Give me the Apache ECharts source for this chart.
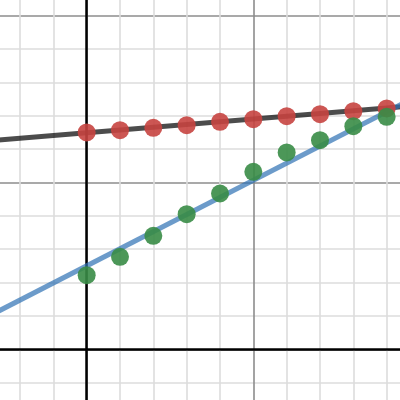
<!DOCTYPE html>
<html>
<head>
<meta charset="utf-8">
<script src="https://cdn.jsdelivr.net/npm/echarts@6/dist/echarts.min.js"></script>
<style>
html,body{margin:0;padding:0;background:#fff;overflow:hidden;width:400px;height:400px;}
#wrap{position:relative;width:400px;height:400px;overflow:hidden;}
#c{position:absolute;}
</style>
</head>
<body>
<div id="wrap"><div id="c"></div></div>
<script>
const xs = [0, 1, 2, 3, 4, 5, 6, 7, 8, 9];
const redY = [6.50, 6.57, 6.64, 6.72, 6.82, 6.90, 6.99, 7.05, 7.14, 7.22];
const greenY = [2.22, 2.77, 3.40, 4.05, 4.67, 5.32, 5.90, 6.27, 6.69, 6.97];
// fitted lines: [intercept, slope]
const darkFit = [6.49, 0.0825];
const blueFit = [2.50, 0.513];
const lineXRange = [-5, 10];

const unit = 100 / 3; // px per unit
const xMin = -5, xMax = 10, yMin = -5, yMax = 15;
const originX = 87, originY = 349;

const el = document.getElementById('c');
el.style.left = (originX + xMin * unit) + 'px';
el.style.top = (originY - yMax * unit) + 'px';
el.style.width = ((xMax - xMin) * unit) + 'px';
el.style.height = ((yMax - yMin) * unit) + 'px';

function pts(ys) { return xs.map((x, i) => [x, ys[i]]); }
function fitLine(f) { return lineXRange.map(x => [x, f[0] + f[1] * x]); }

const minor = '#dcdcdc', major = '#8c8c8c';
const chart = echarts.init(el, null, {renderer: 'canvas'});
chart.setOption({
  animation: false,
  backgroundColor: '#fff',
  grid: {left: 0, right: 0, top: 0, bottom: 0, containLabel: false},
  xAxis: {
    type: 'value', min: xMin, max: xMax, interval: 1,
    axisLabel: {show: false}, axisTick: {show: false},
    axisLine: {show: true, onZero: true, lineStyle: {color: '#000', width: 2.5}},
    splitLine: {show: true, lineStyle: {color: [major, minor, minor, minor, minor], width: 1.6}}
  },
  yAxis: {
    type: 'value', min: yMin, max: yMax, interval: 1,
    axisLabel: {show: false}, axisTick: {show: false},
    axisLine: {show: true, onZero: true, lineStyle: {color: '#000', width: 2.5}},
    splitLine: {show: true, lineStyle: {color: [major, minor, minor, minor, minor], width: 1.6}}
  },
  series: [
    {type: 'line', data: fitLine(darkFit), symbol: 'none', z: 3,
     lineStyle: {color: '#000', opacity: 0.7, width: 5}},
    {type: 'line', data: fitLine(blueFit), symbol: 'none', z: 3,
     lineStyle: {color: '#2d70b3', opacity: 0.7, width: 5}},
    {type: 'scatter', data: pts(redY), symbolSize: 18, z: 4,
     itemStyle: {color: '#c74440', opacity: 0.9}},
    {type: 'scatter', data: pts(greenY), symbolSize: 18, z: 4,
     itemStyle: {color: '#388c46', opacity: 0.9}}
  ]
});
</script>
</body>
</html>
